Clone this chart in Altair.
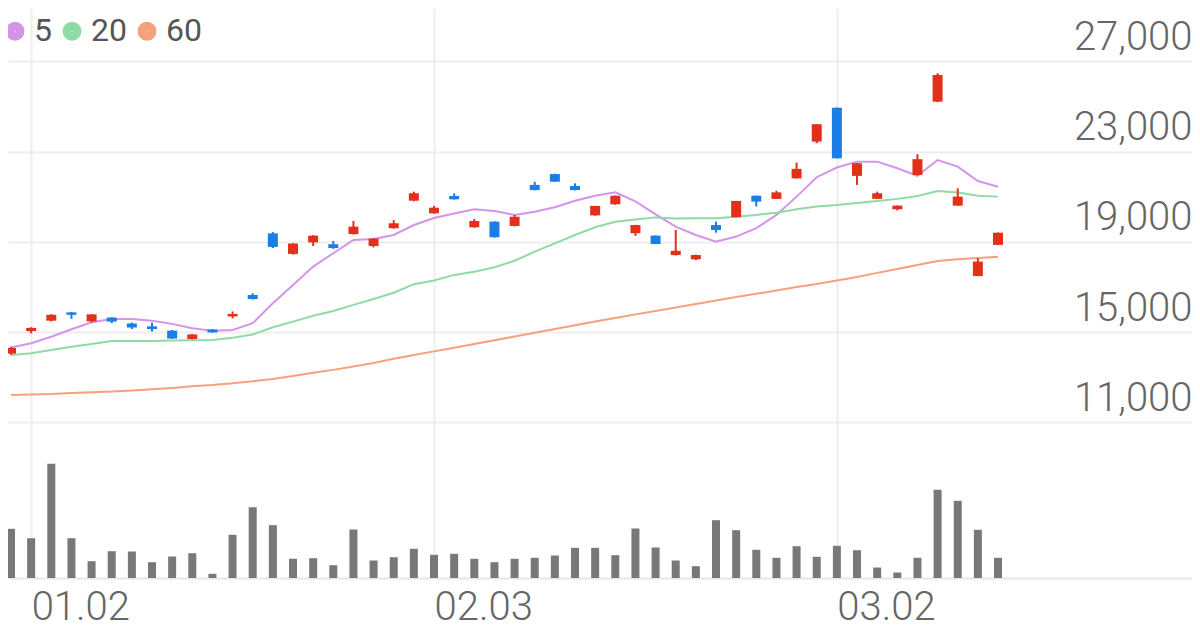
import altair as alt
import pandas as pd

# ---- data ----
idx = list(range(50))
opens = [14050, 15050, 15510, 15880, 15480, 15650, 15390, 15260, 15070, 14700,
         15120, 15700, 16650, 19380, 18470, 18980, 18900, 19350, 18820, 19610,
         20830, 20270, 21040, 19650, 19900, 19710, 21530, 22010, 21480, 20180,
         20670, 19390, 19280, 18420, 18230, 19750, 20100, 21050, 20910, 21820,
         23450, 24950, 21930, 20910, 20450, 21970, 25220, 20610, 17490, 18870]
highs = [14350, 15220, 15800, 15900, 15800, 15660, 15430, 15420, 15100, 14920,
         15140, 15920, 16730, 19440, 18950, 19300, 19050, 19930, 19170, 19970,
         21230, 20600, 21160, 20020, 19920, 20200, 21670, 22030, 21600, 20600,
         21060, 19760, 19290, 19530, 18440, 19900, 20820, 21060, 21270, 22520,
         24220, 24960, 22500, 21230, 20620, 22890, 26480, 21380, 18280, 19420]
lows = [14000, 14950, 15480, 15590, 15430, 15400, 15140, 15030, 14700, 14680,
        14980, 15610, 16450, 18730, 18440, 18820, 18700, 19330, 18760, 19590,
        20800, 20250, 20880, 19630, 19190, 19690, 21290, 21660, 21290, 20160,
        20650, 19270, 18900, 18400, 18200, 19410, 20090, 20570, 20900, 21810,
        23380, 22700, 21530, 20900, 20400, 21950, 25200, 20600, 17480, 18860]
closes = [14300, 15190, 15770, 15770, 15790, 15470, 15210, 15140, 14720, 14900,
          14990, 15810, 16470, 18780, 18930, 19280, 18730, 19680, 19150, 19830,
          21160, 20520, 20890, 19930, 19210, 20120, 21300, 21670, 21300, 20600,
          21050, 19750, 18910, 18610, 18420, 19530, 20820, 20790, 21200, 22240,
          24220, 22710, 22490, 21160, 20610, 22670, 26400, 21010, 18130, 19410]
volumes = [492, 398, 1142, 398, 168, 268, 265, 158, 215, 248,
           42, 432, 708, 528, 192, 198, 128, 485, 175, 208,
           292, 232, 242, 192, 158, 192, 202, 225, 302, 302,
           228, 495, 305, 175, 118, 578, 478, 282, 202, 318,
           212, 322, 278, 105, 55, 202, 882, 772, 482, 202]
ma5 = [14320, 14510, 14800, 15130, 15440, 15590, 15590, 15510, 15370, 15180,
       15070, 15100, 15400, 16280, 17090, 17910, 18500, 19090, 19130, 19310,
       19750, 20060, 20260, 20450, 20370, 20200, 20340, 20540, 20830, 21050,
       21200, 20800, 20220, 19680, 19310, 19010, 19240, 19610, 20200, 21010,
       21870, 22300, 22560, 22560, 22270, 21930, 22630, 22340, 21700, 21450]
ma20 = [13990, 14070, 14210, 14360, 14480, 14610, 14610, 14610, 14630, 14640,
        14660, 14750, 14900, 15220, 15470, 15730, 15940, 16210, 16470, 16750,
        17130, 17290, 17540, 17680, 17880, 18170, 18570, 18940, 19310, 19650,
        19900, 20000, 20090, 20040, 20050, 20050, 20120, 20200, 20300, 20450,
        20570, 20640, 20730, 20820, 20910, 21040, 21260, 21190, 21050, 21010]
ma60 = [12220, 12240, 12260, 12310, 12340, 12370, 12420, 12470, 12530, 12600,
        12660, 12740, 12830, 12930, 13060, 13200, 13330, 13480, 13640, 13820,
        13990, 14150, 14310, 14480, 14640, 14810, 14980, 15140, 15310, 15470,
        15630, 15790, 15940, 16100, 16250, 16410, 16560, 16700, 16850, 17000,
        17140, 17290, 17450, 17630, 17800, 17980, 18160, 18230, 18290, 18350]
x_tick_index = [1, 21, 41]
x_tick_labels = ["01.02", "02.03", "03.02"]
y_ticks = [11000, 15000, 19000, 23000, 27000]
ma_names = ["5", "20", "60"]

# ---- styles ----
ma_colors = ["#d394ea", "#8fdaa5", "#f6a07c"]
UP = "#e3301a"
DOWN = "#1b7ee6"
VOL = "#787878"
GRID = "#eeeeee"
FONT = "Roboto"

df = pd.DataFrame({"i": idx, "open": opens, "high": highs, "low": lows,
                   "close": closes, "volume": volumes})
ma_df = pd.concat([
    pd.DataFrame({"i": idx, "value": vals, "ma": name})
    for name, vals in zip(ma_names, [ma5, ma20, ma60])
])

label_expr = "''"
for v, t in zip(reversed(x_tick_index), reversed(x_tick_labels)):
    label_expr = f"datum.value == {v} ? '{t}' : ({label_expr})"

x_scale = alt.Scale(domain=[-0.149, 58.63], nice=False, zero=False, padding=0)
x_axis = alt.Axis(values=x_tick_index, labelExpr=label_expr, grid=True,
                  gridColor=GRID, gridWidth=2, ticks=False, domain=True,
                  domainColor="#e6e6e6", domainWidth=2, labelAlign="left",
                  labelBaseline="alphabetic", labelPadding=41, labelFlush=False,
                  labelFontSize=40, labelFont=FONT, labelFontWeight=300,
                  labelColor="#666666", title=None)
X = alt.X("i:Q", scale=x_scale, axis=x_axis)

y_scale = alt.Scale(domain=[4105, 29371], nice=False, zero=False)
y_axis = alt.Axis(orient="right", values=y_ticks,
                  labelExpr="format(datum.value, ',')", grid=True,
                  gridColor=GRID, gridWidth=2, ticks=False, domain=False,
                  labelAlign="right", labelBaseline="alphabetic", labelOffset=-12,
                  labelPadding=0, labelFontSize=40, labelFont=FONT,
                  labelFontWeight=300, labelColor="#666666", title=None)

dir_color = alt.Color("dir:N", scale=alt.Scale(domain=["up", "down"], range=[UP, DOWN]),
                      legend=None)

lines = alt.Chart(ma_df).mark_line(strokeWidth=2).encode(
    x=X,
    y=alt.Y("value:Q", scale=y_scale, axis=y_axis),
    color=alt.Color("ma:N", scale=alt.Scale(domain=ma_names, range=ma_colors),
                    legend=alt.Legend(orient="none", legendX=-9, legendY=7,
                                      direction="horizontal", title=None,
                                      symbolType="circle", symbolSize=79,
                                      symbolStrokeWidth=10, labelFontSize=32,
                                      labelFont=FONT, labelColor="#555555",
                                      labelOffset=3, columnPadding=-5, padding=0)),
    order="i:Q",
)

candles_base = alt.Chart(df).transform_calculate(
    dir="datum.close >= datum.open ? 'up' : 'down'"
)
wicks = candles_base.mark_rule(strokeWidth=2).encode(
    x=X, y=alt.Y("low:Q", scale=y_scale, axis=y_axis), y2="high:Q", color=dir_color
)
bodies = candles_base.mark_bar(width=10).encode(
    x=X, y=alt.Y("open:Q", scale=y_scale, axis=y_axis), y2="close:Q", color=dir_color
)

price = alt.layer(lines, wicks, bodies).resolve_scale(color="independent")

volume = alt.Chart(df).mark_bar(width=8, color=VOL).encode(
    x=X,
    y=alt.Y("volume:Q", scale=alt.Scale(domain=[0, 5700], nice=False), axis=None),
)

chart = alt.layer(volume, price).resolve_scale(
    y="independent", color="independent"
).properties(
    width=1184, height=570,
    padding={"left": 0, "right": 0, "top": 0, "bottom": 50},
    autosize=alt.AutoSizeParams(type="none"),
).configure_view(strokeWidth=0)

chart.save("out.html", embed_options={"renderer": "svg", "actions": False})
